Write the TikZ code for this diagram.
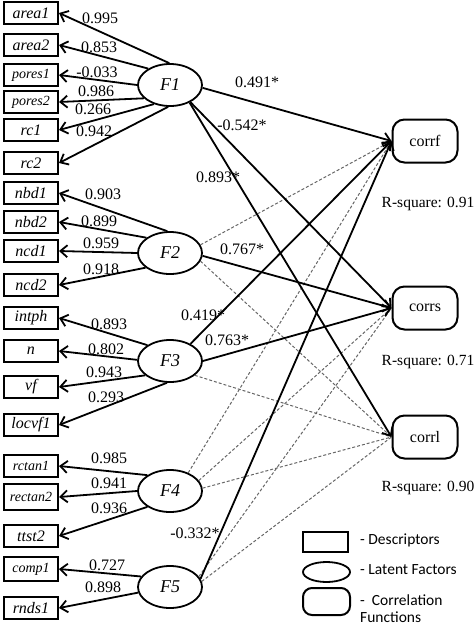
\documentclass[tikz,border=0pt]{standalone}
\usepackage{fontspec}
\setmainfont{Liberation Serif}
\newfontfamily\legendfont{Carlito}
\usetikzlibrary{shapes.geometric,arrows.meta}
\begin{document}
\begin{tikzpicture}[x=1pt,y=-1pt,
  desc/.style={draw,line width=2pt,minimum width=54pt,minimum height=22pt,inner sep=0pt,font=\fontsize{16}{16}\selectfont\itshape},
  smalldesc/.style={desc,font=\fontsize{14}{14}\selectfont\itshape},
  lat/.style={draw,ellipse,line width=1.8pt,minimum width=64pt,minimum height=42pt,inner sep=0pt,font=\fontsize{18}{18}\selectfont\itshape},
  corr/.style={draw,rounded corners=12pt,line width=2pt,minimum width=65pt,minimum height=43pt,inner sep=0pt,font=\fontsize{16}{16}\selectfont},
  load/.style={line width=1.8pt,-{Straight Barb[length=7pt,width=12pt]}},
  sig/.style={line width=1.8pt,-{Straight Barb[length=7pt,width=12pt]}},
  ns/.style={dash pattern=on 3pt off 2pt,black!60,line width=1pt},
  num/.style={font=\fontsize{16}{16}\selectfont,inner sep=0pt},
  rsq/.style={font=\fontsize{15.5}{15.5}\selectfont,inner sep=0pt},
  leg/.style={font=\legendfont\fontsize{15.5}{15.5}\selectfont,inner sep=0pt,anchor=west}
]
\useasboundingbox (0,0) rectangle (474,627);
% descriptors
\node[desc] (area1) at (31,13) {area1};
\node[desc] (area2) at (31,45) {area2};
\node[smalldesc] (pores1) at (31,75) {pores1};
\node[smalldesc] (pores2) at (31,102) {pores2};
\node[desc] (rc1) at (31,130) {rc1};
\node[desc] (rc2) at (31,163) {rc2};
\node[desc] (nbd1) at (31,193) {nbd1};
\node[desc] (nbd2) at (31,222) {nbd2};
\node[desc] (ncd1) at (31,251) {ncd1};
\node[desc] (ncd2) at (31,285) {ncd2};
\node[desc] (intph) at (31,318) {intph};
\node[desc] (n) at (31,351) {n};
\node[desc] (vf) at (31,387) {vf};
\node[desc] (locvf1) at (31,425) {locvf1};
\node[smalldesc] (rctan1) at (31,466) {rctan1};
\node[smalldesc,minimum height=26pt] (rectan2) at (31,497) {rectan2};
\node[desc] (ttst2) at (31,536) {ttst2};
\node[smalldesc,minimum height=24pt] (comp1) at (31,569) {comp1};
\node[desc] (rnds1) at (31,608) {rnds1};
% latent factors
\node[lat] (F1) at (170,85) {F1};
\node[lat] (F2) at (170,253) {F2};
\node[lat] (F3) at (170,361) {F3};
\node[lat] (F4) at (170,491) {F4};
\node[lat] (F5) at (170,587) {F5};
% correlation functions
\node[corr] (corrf) at (425,141) {corrf};
\node[corr] (corrs) at (425,308) {corrs};
\node[corr] (corrl) at (425,437) {corrl};
% loadings
\draw[load] (F1.92) -- (area1.east);
\draw[load] (F1.143) -- (area2.east);
\draw[load] (F1.180) -- (pores1.east);
\draw[load] (F1.207) -- (pores2.east);
\draw[load] (F1.230) -- (rc1.east);
\draw[load] (F1.265) -- (rc2.east);
\draw[load] (F2.97) -- (nbd1.east);
\draw[load] (F2.147) -- (nbd2.east);
\draw[load] (F2.180) -- (ncd1.east);
\draw[load] (F2.211) -- (ncd2.east);
\draw[load] (F3.145) -- (intph.east);
\draw[load] (F3.178) -- (n.east);
\draw[load] (F3.210) -- (vf.east);
\draw[load] (F3.262) -- (locvf1.east);
\draw[load] (F4.145) -- (rctan1.east);
\draw[load] (F4.180) -- (rectan2.east);
\draw[load] (F4.215) -- (ttst2.east);
\draw[load] (F5.160) -- (comp1.east);
\draw[load] (F5.190) -- (rnds1.east);
% non-significant paths
\draw[ns] (F2.15) -- (corrf.west);
\draw[ns] (F2.-15) -- (corrl.west);
\draw[ns] (F3.-30) -- (corrl.west);
\draw[ns] (F4.45) -- (corrf.west);
\draw[ns] (F4.20) -- (corrs.west);
\draw[ns] (F4.5) -- (corrl.west);
\draw[ns] (F5.20) -- (corrs.west);
\draw[ns] (F5.10) -- (corrl.west);
% significant paths
\draw[sig] (F1.-5) -- (corrf.west);
\draw[sig] (F1.-40) -- (corrs.west);
\draw[sig] (F1.-42) -- (corrl.west);
\draw[sig] (F2.-5) -- (corrs.west);
\draw[sig] (F3.40) -- (corrf.west);
\draw[sig] (F3.0) -- (corrs.west);
\draw[sig] (F5.15) -- (corrf.west);
% loading labels
\node[num] (l1) at (100,18) {0.995};
\node[num] (l2) at (99,47) {0.853};
\node[num] (l3) at (97,72) {-0.033};
\node[num] (l4) at (96,91) {0.986};
\node[num] (l5) at (93,109) {0.266};
\node[num] (l6) at (94,131) {0.942};
\node[num] (l7) at (103,194) {0.903};
\node[num] (l8) at (99,221) {0.899};
\node[num] (l9) at (101,243) {0.959};
\node[num] (l10) at (101,269) {0.918};
\node[num] (l11) at (109,324) {0.893};
\node[num] (l12) at (106,349) {0.802};
\node[num] (l13) at (104,372) {0.943};
\node[num] (l14) at (106,397) {0.293};
\node[num] (l15) at (109,458) {0.985};
\node[num] (l16) at (109,483) {0.941};
\node[num] (l17) at (109,508) {0.936};
\node[num] (l18) at (107,565) {0.727};
\node[num] (l19) at (103,587) {0.898};
% path labels
\node[num] (p1) at (257,82) {0.491*};
\node[num] (p2) at (242,125) {-0.542*};
\node[num] (p3) at (218,177) {0.893*};
\node[num] (p4) at (242,249) {0.767*};
\node[num] (p5) at (203,315) {0.419*};
\node[num] (p6) at (227,340) {0.763*};
\node[num] (p7) at (195,533) {-0.332*};
% R-square
\node[rsq] (r1) at (428,204) {R-square: 0.91};
\node[rsq] (r2) at (428,362) {R-square: 0.71};
\node[rsq] (r3) at (428,488) {R-square: 0.90};
% legend
\node[draw,line width=2pt,minimum width=45pt,minimum height=20pt,inner sep=0pt] (lg1) at (325.5,542) {};
\node[draw,ellipse,line width=1.8pt,minimum width=47pt,minimum height=20pt,inner sep=0pt] (lg2) at (326.5,572) {};
\node[draw,rounded corners=9pt,line width=2pt,minimum width=47pt,minimum height=27pt,inner sep=0pt] (lg3) at (326.5,601.5) {};
\node[leg] (lt1) at (360,540) {- Descriptors};
\node[leg] (lt2) at (360,570) {- Latent Factors};
\node[leg] (lt3) at (360,600) {-\ \ Correlation};
\node[leg] (lt4) at (360,617) {Functions};
\end{tikzpicture}
\end{document}
